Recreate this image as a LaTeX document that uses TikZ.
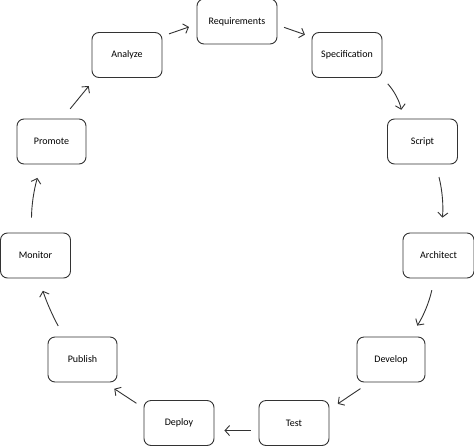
\documentclass[tikz,border=0pt]{standalone}
\usepackage{fontspec}
\setmainfont{Carlito}
\usetikzlibrary{arrows.meta}

\tikzset{
  fase/.style={draw=black!80, line width=0.9pt, rounded corners=7pt,
    minimum width=70pt, minimum height=45pt, inner sep=0pt,
    font=\fontsize{10}{12}\selectfont, text=black},
  freccia/.style={draw=black!80, line width=0.9pt,
    -{Straight Barb[length=4.5pt,width=10pt]}},
}

\begin{document}
\begin{tikzpicture}[x=1pt, y=1pt]
        \useasboundingbox (0,0) rectangle (474,-445);

        % --- FASI (in senso orario) ---
        \node[fase, minimum width=80pt] (req) at (237,-21.5) {Requirements};
        \node[fase] (spec) at (347,-55) {Specification};
        \node[fase] (scr) at (422.5,-141.5) {Script};
        \node[fase, minimum width=71pt] (arch) at (438.5,-255.5) {Architect};
        \node[fase, minimum width=68pt] (dev) at (391,-359.5) {Develop};
        \node[fase] (test) at (294,-423) {Test};
        \node[fase] (dep) at (179,-423) {Deploy};
        \node[fase, minimum width=69pt] (pub) at (82.5,-359.5) {Publish};
        \node[fase] (mon) at (35.5,-255.5) {Monitor};
        \node[fase, minimum width=69pt] (prom) at (51.5,-141.5) {Promote};
        \node[fase] (ana) at (127,-55) {Analyze};

        % --- FRECCE ---
        \draw[freccia, shorten <=7pt, shorten >=8pt] (ana.28) -- (req.184);
        \draw[freccia, shorten <=7pt, shorten >=7pt] (req.-5) -- (spec.153);
        \draw[freccia, shorten <=8pt, shorten >=9pt] (spec.south east) to[bend left=15] (scr.130);
        \draw[freccia, shorten <=13pt, shorten >=15pt] (scr.-60) to[bend left=10] (arch.84);
        \draw[freccia, shorten <=12pt, shorten >=13pt] (arch.260) to[bend left=10] (dev.50);
        \draw[freccia, shorten <=11pt, shorten >=10pt] (dev.227) -- (test.21);
        \draw[freccia, shorten <=8pt, shorten >=10pt] (test.192) -- (dep.-12);
        \draw[freccia, shorten <=8.5pt, shorten >=11.5pt] (dep.157) -- (pub.-46);
        \draw[freccia, shorten <=12pt, shorten >=13pt] (pub.129) to[bend left=5] (mon.-82);
        \draw[freccia, shorten <=15pt, shorten >=14pt] (mon.100) to[bend left=8] (prom.246);
        \draw[freccia, shorten <=12.5pt, shorten >=10.5pt] (prom.65) -- (ana.216);

    \end{tikzpicture}
\end{document}
